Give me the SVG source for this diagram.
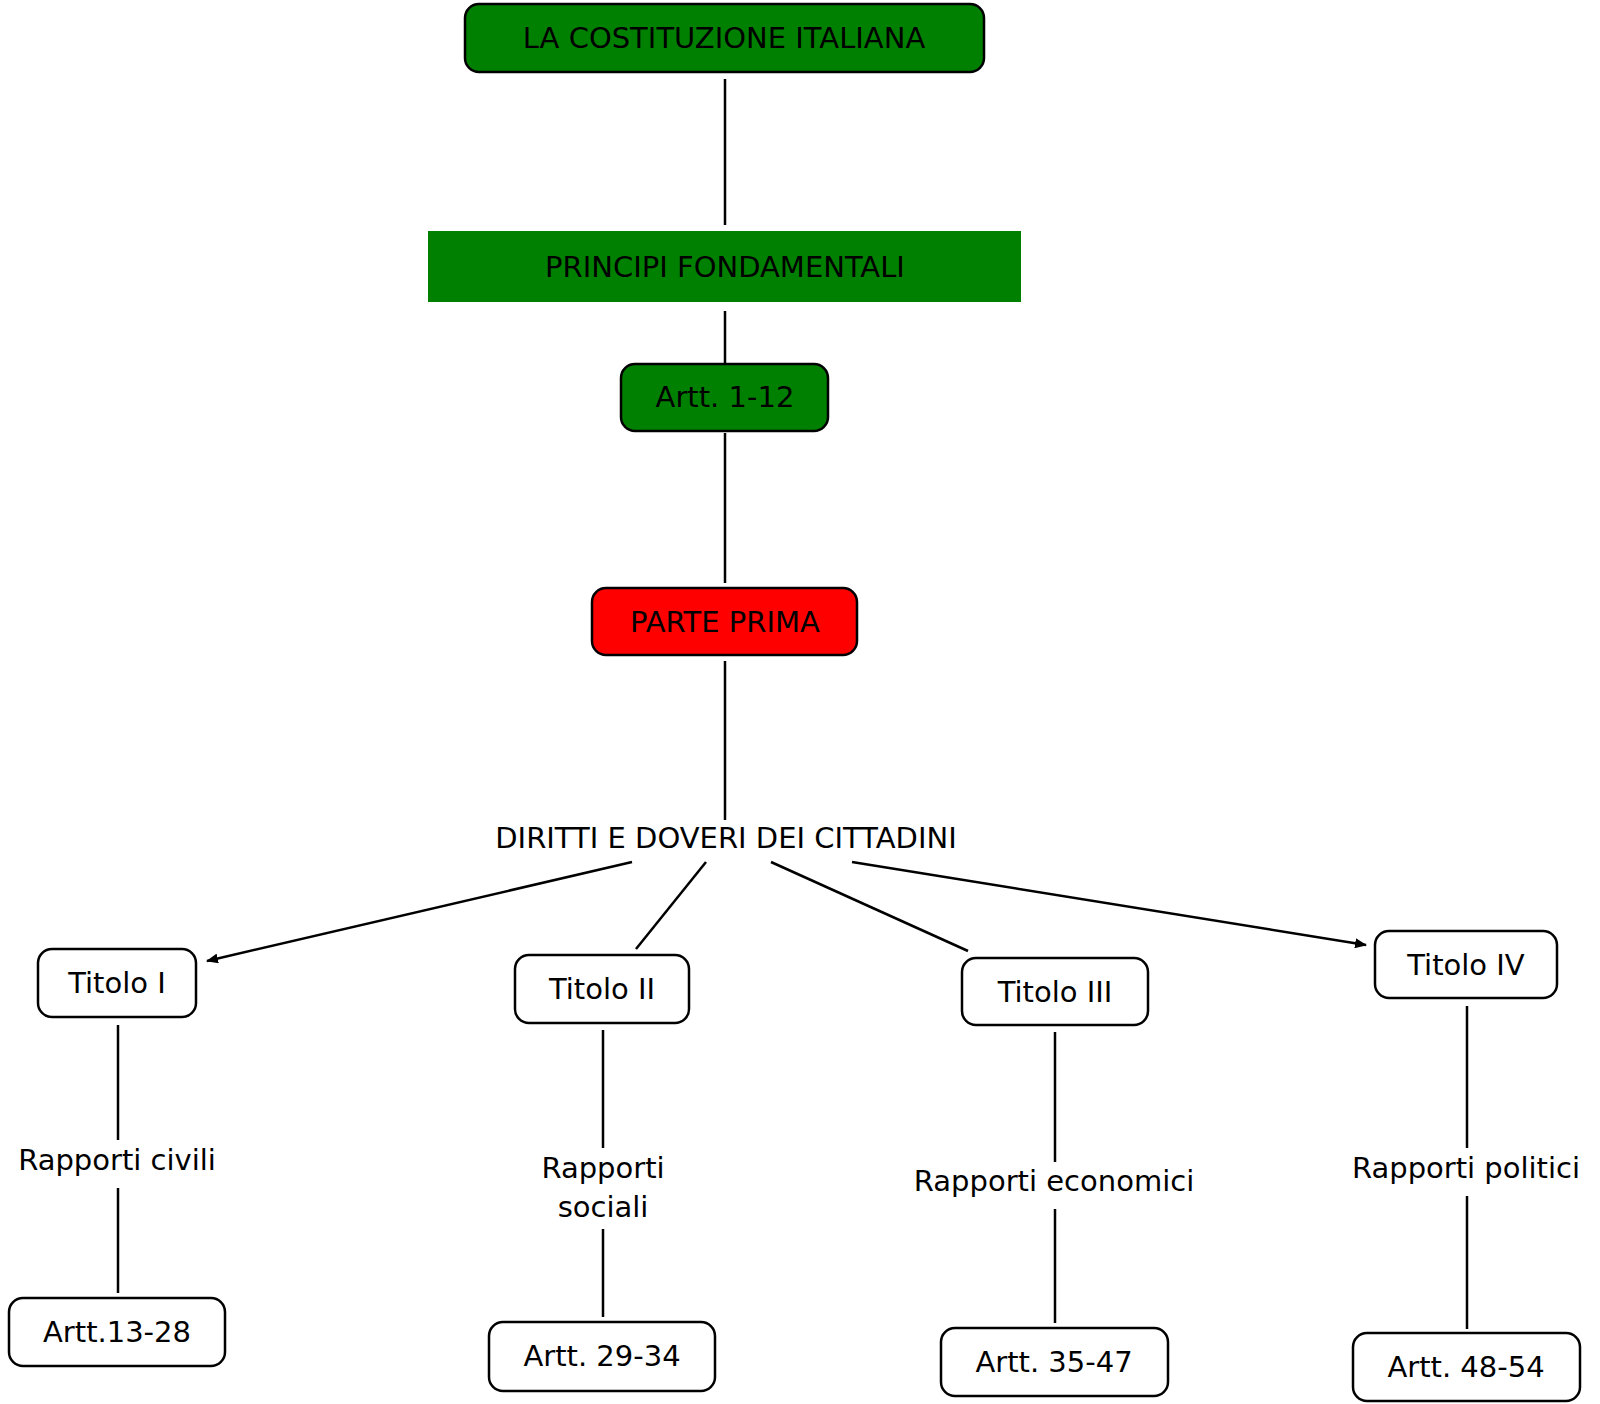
<svg xmlns="http://www.w3.org/2000/svg" width="1600" height="1404" viewBox="0 0 1600 1404">
<style>
text{font-family:"DejaVu Sans",Verdana,sans-serif;font-size:29px;fill:#000;text-anchor:middle;dominant-baseline:central}
.n{fill:#fff;stroke:#000;stroke-width:2.5}
.g{fill:#008000;stroke:#000;stroke-width:2.5}
.r{fill:#ff0000;stroke:#000;stroke-width:2.5}
#edges line{stroke:#000;stroke-width:2.5}
</style>
<defs><marker id="a" markerWidth="12" markerHeight="10" refX="11" refY="5" orient="auto" markerUnits="userSpaceOnUse" viewBox="0 0 12 10"><path d="M0,0L12,5L0,10z"/></marker></defs>
<rect width="1600" height="1404" fill="#fff"/>
<g id="edges">
<line x1="725" y1="79" x2="725" y2="225"/>
<line x1="725" y1="311" x2="725" y2="363"/>
<line x1="725" y1="433" x2="725" y2="583"/>
<line x1="725" y1="661" x2="725" y2="820"/>
<line x1="632" y1="862" x2="207" y2="961" marker-end="url(#a)" style="stroke-width:2.5"/>
<line x1="706" y1="862" x2="636" y2="949"/>
<line x1="771" y1="862" x2="968" y2="951"/>
<line x1="852" y1="862" x2="1366" y2="945" marker-end="url(#a)"/>
<line x1="118" y1="1025" x2="118" y2="1140"/>
<line x1="118" y1="1188" x2="118" y2="1293"/>
<line x1="603" y1="1030" x2="603" y2="1148"/>
<line x1="603" y1="1229" x2="603" y2="1317"/>
<line x1="1055" y1="1032" x2="1055" y2="1162"/>
<line x1="1055" y1="1209" x2="1055" y2="1323"/>
<line x1="1467" y1="1006" x2="1467" y2="1148"/>
<line x1="1467" y1="1196" x2="1467" y2="1329"/>
</g>
<g id="n1"><rect class="g" x="465" y="4" width="519" height="68" rx="14"/><text x="724" y="38">LA COSTITUZIONE ITALIANA</text></g>
<g id="n2"><rect x="428" y="231" width="593" height="71" fill="#008000"/><text x="725" y="267">PRINCIPI FONDAMENTALI</text></g>
<g id="n3"><rect class="g" x="621" y="364" width="207" height="67" rx="14"/><text x="725" y="397">Artt. 1-12</text></g>
<g id="n4"><rect class="r" x="592" y="588" width="265" height="67" rx="14"/><text x="725" y="622">PARTE PRIMA</text></g>
<g id="n5"><text x="726" y="838">DIRITTI E DOVERI DEI CITTADINI</text></g>
<g id="t1"><rect class="n" x="38" y="949" width="158" height="68" rx="14"/><text x="117" y="983">Titolo I</text></g>
<g id="t2"><rect class="n" x="515" y="955" width="174" height="68" rx="14"/><text x="602" y="989">Titolo II</text></g>
<g id="t3"><rect class="n" x="962" y="958" width="186" height="67" rx="14"/><text x="1055" y="992">Titolo III</text></g>
<g id="t4"><rect class="n" x="1375" y="931" width="182" height="67" rx="14"/><text x="1466" y="965">Titolo IV</text></g>
<g id="r1"><text x="117" y="1160">Rapporti civili</text></g>
<g id="r2"><text x="603" y="1168">Rapporti</text><text x="603" y="1207">sociali</text></g>
<g id="r3"><text x="1054" y="1181">Rapporti economici</text></g>
<g id="r4"><text x="1466" y="1168">Rapporti politici</text></g>
<g id="a1"><rect class="n" x="9" y="1298" width="216" height="68" rx="14"/><text x="117" y="1332">Artt.13-28</text></g>
<g id="a2"><rect class="n" x="489" y="1322" width="226" height="69" rx="14"/><text x="602" y="1356">Artt. 29-34</text></g>
<g id="a3"><rect class="n" x="941" y="1328" width="227" height="68" rx="14"/><text x="1054" y="1362">Artt. 35-47</text></g>
<g id="a4"><rect class="n" x="1353" y="1333" width="227" height="68" rx="14"/><text x="1466" y="1367">Artt. 48-54</text></g>
</svg>
